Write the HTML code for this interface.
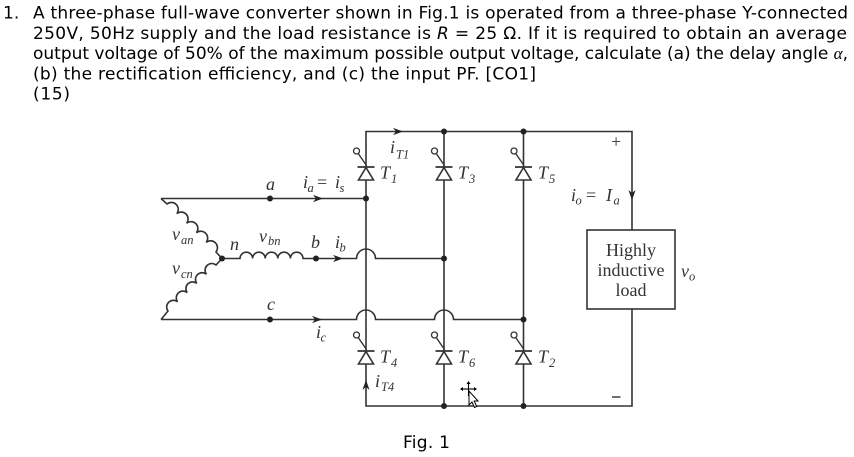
<!DOCTYPE html>
<html>
<head>
<meta charset="utf-8">
<style>
  html,body{margin:0;padding:0;background:#fff;}
  svg{display:block;}
  .hd{font-family:"DejaVu Sans","Liberation Sans",sans-serif;font-size:17px;fill:#000;}
  .lb{font-family:"Liberation Serif",serif;font-style:italic;font-size:18px;fill:#333;}
  .sb{font-family:"Liberation Serif",serif;font-style:italic;font-size:12.5px;fill:#333;}
  .rm{font-family:"Liberation Serif",serif;font-size:18px;fill:#333;}
  .w{fill:none;stroke:#333;stroke-width:1.6;}
</style>
</head>
<body>
<svg width="854" height="457" viewBox="0 0 854 457" xmlns="http://www.w3.org/2000/svg">
  <rect x="0" y="0" width="854" height="457" fill="#fff"/>

  <!-- Header text -->
  <text class="hd" x="3" y="18.5">1.</text>
  <text class="hd" x="33" y="18.5" textLength="815" lengthAdjust="spacing">A three-phase full-wave converter shown in Fig.1 is operated from a three-phase Y-connected</text>
  <text class="hd" x="33" y="38.8" textLength="814" lengthAdjust="spacing">250V, 50Hz supply and the load resistance is <tspan font-style="italic">R</tspan> = 25 Ω. If it is required to obtain an average</text>
  <text class="hd" x="33" y="59.1" textLength="815" lengthAdjust="spacing">output voltage of 50% of the maximum possible output voltage, calculate (a) the delay angle <tspan font-family="Liberation Serif, serif" font-style="italic">α</tspan>,</text>
  <text class="hd" x="33" y="79.4" textLength="503" lengthAdjust="spacing">(b) the rectification efficiency, and (c) the input PF. [CO1]</text>
  <text class="hd" x="33" y="99.7" textLength="37" lengthAdjust="spacing">(15)</text>

  <!-- Wires -->
  <!-- column 1 -->
  <path class="w" d="M366,167 V131.5 H632 V230"/>
  <rect class="w" x="587" y="230" width="88" height="79"/>
  <path class="w" d="M632,309 V406 H366 V364"/>
  <path class="w" d="M366,180 V351"/>
  <!-- column 3 -->
  <path class="w" d="M444,131.5 V167 M444,180 V351 M444,364 V406"/>
  <!-- column 5 -->
  <path class="w" d="M523.5,131.5 V167 M523.5,180 V351 M523.5,364 V406"/>

  <!-- a wire and coil -->
  <path class="w" d="M161,198.5 H366"/>
  <path class="w" d="M161,198.5 L167,204
    A6.9,6.9 0 0 1 176.8,213.6
    A6.9,6.9 0 0 1 186.6,223.2
    A6.9,6.9 0 0 1 196.4,232.8
    A6.9,6.9 0 0 1 206.2,242.4
    A6.9,6.9 0 0 1 216,252 L222,258.5"/>
  <!-- b wire and coil -->
  <path class="w" d="M222,258.5 H240
    A6.3,6.3 0 0 1 252.6,258.5
    A6.3,6.3 0 0 1 265.2,258.5
    A6.3,6.3 0 0 1 277.8,258.5
    A6.3,6.3 0 0 1 290.4,258.5
    A6.3,6.3 0 0 1 303,258.5
    H356.5 A9.5,9.5 0 0 1 375.5,258.5 H444"/>
  <!-- c coil -->
  <path class="w" d="M222,258.5 L216,265
    A6.7,6.7 0 0 0 206.4,274.2
    A6.7,6.7 0 0 0 196.8,283.4
    A6.7,6.7 0 0 0 187.2,292.6
    A6.7,6.7 0 0 0 177.6,301.8
    A6.7,6.7 0 0 0 168,311 L161,319.5"/>
  <!-- c wire -->
  <path class="w" d="M161,319.5 H356.5 A9.5,9.5 0 0 1 375.5,319.5 H434.5 A9.5,9.5 0 0 1 453.5,319.5 H523.5"/>

  <!-- Dots -->
  <g fill="#222">
    <circle cx="366" cy="198.5" r="3"/>
    <circle cx="270" cy="198.5" r="3"/>
    <circle cx="222" cy="258.5" r="3"/>
    <circle cx="316" cy="258.5" r="3"/>
    <circle cx="444" cy="258.5" r="3"/>
    <circle cx="270" cy="319.5" r="3"/>
    <circle cx="523.5" cy="319.5" r="3"/>
    <circle cx="444" cy="131.5" r="3"/>
    <circle cx="523.5" cy="131.5" r="3"/>
    <circle cx="444" cy="406" r="3"/>
    <circle cx="523.5" cy="406" r="3"/>
  </g>

  <!-- Thyristors -->
  <defs>
    <g id="thy">
      <line x1="-8.5" y1="0" x2="8.5" y2="0" stroke="#333" stroke-width="1.8"/>
      <polygon points="0,0.5 -7.5,13 7.5,13" fill="#fff" stroke="#333" stroke-width="1.6" stroke-linejoin="miter"/>
      <line x1="-7.8" y1="-13.5" x2="0.5" y2="-1.5" stroke="#333" stroke-width="1.4"/>
      <circle cx="-9.5" cy="-16" r="3" fill="#fff" stroke="#333" stroke-width="1.3"/>
    </g>
    <path id="arr" d="M0,0 L-10,-3.6 L-7,0 L-10,3.6 Z" fill="#222"/>
  </defs>
  <use href="#thy" x="366" y="167"/>
  <use href="#thy" x="444" y="167"/>
  <use href="#thy" x="523.5" y="167"/>
  <use href="#thy" x="366" y="351"/>
  <use href="#thy" x="444" y="351"/>
  <use href="#thy" x="523.5" y="351"/>

  <!-- Arrowheads -->
  <use href="#arr" transform="translate(323,198.5)"/>
  <use href="#arr" transform="translate(343,258.5)"/>
  <use href="#arr" transform="translate(322,319.5)"/>
  <use href="#arr" transform="translate(403,131.5)"/>
  <use href="#arr" transform="translate(632,200) rotate(90)"/>
  <use href="#arr" transform="translate(366,380) rotate(-90)"/>

  <!-- Labels -->
  <text class="lb" x="390" y="153">i</text><text class="sb" x="396" y="158.5">T1</text>
  <text class="lb" x="380" y="178.5">T</text><text class="sb" x="391" y="183">1</text>
  <text class="lb" x="458" y="178.5">T</text><text class="sb" x="469" y="183">3</text>
  <text class="lb" x="538" y="178.5">T</text><text class="sb" x="549" y="183">5</text>
  <text class="lb" x="380" y="362.5">T</text><text class="sb" x="391" y="367">4</text>
  <text class="lb" x="458" y="362.5">T</text><text class="sb" x="469" y="367">6</text>
  <text class="lb" x="538" y="362.5">T</text><text class="sb" x="549" y="367">2</text>
  <text class="lb" x="375" y="387">i</text><text class="sb" x="381" y="391">T4</text>

  <text class="lb" x="266" y="190">a</text>
  <text class="lb" x="303" y="188">i</text><text class="sb" x="307.5" y="192">a</text>
  <text class="rm" x="317" y="188">=</text>
  <text class="lb" x="335" y="188">i</text><text class="sb" x="339.5" y="192">s</text>

  <text class="lb" x="172" y="240">v</text><text class="sb" x="181" y="244">an</text>
  <text class="lb" x="172" y="274">v</text><text class="sb" x="181" y="278">cn</text>
  <text class="lb" x="230" y="250">n</text>
  <text class="lb" x="259" y="242">v</text><text class="sb" x="268" y="245">bn</text>
  <text class="lb" x="311" y="248">b</text>
  <text class="lb" x="335" y="248">i</text><text class="sb" x="339.5" y="251.5">b</text>
  <text class="lb" x="267" y="310">c</text>
  <text class="lb" x="316" y="338">i</text><text class="sb" x="320.5" y="341.5">c</text>

  <text class="lb" x="571" y="201">i</text><text class="sb" x="575.5" y="204.5">o</text>
  <text class="rm" x="586" y="201">=</text>
  <text class="lb" x="606" y="201">I</text><text class="sb" x="613.5" y="204.5">a</text>

  <text class="rm" x="611" y="147.5" font-size="16">+</text>
  <line x1="612" y1="397" x2="620.5" y2="397" stroke="#333" stroke-width="1.4"/>

  <text class="lb" x="681" y="277">v</text><text class="sb" x="689" y="280.5">o</text>

  <text class="rm" x="631" y="256" text-anchor="middle">Highly</text>
  <text class="rm" x="631" y="276" text-anchor="middle">inductive</text>
  <text class="rm" x="631" y="296" text-anchor="middle">load</text>

  <text class="hd" x="403" y="448" font-size="16.5" textLength="47" lengthAdjust="spacing">Fig. 1</text>

  <!-- Cursor -->
  <g stroke="#000" stroke-width="1.1" fill="none">
    <line x1="461" y1="389" x2="476" y2="389"/>
    <line x1="468.5" y1="382" x2="468.5" y2="396"/>
  </g>
  <g fill="#000">
    <polygon points="460,389 463,387 463,391"/>
    <polygon points="477,389 474,387 474,391"/>
    <polygon points="468.5,381 466.5,384 470.5,384"/>
  </g>
  <polygon points="469,391 469,405 472,402 474.5,407.5 476.7,406.5 474.2,401 478,401" fill="#fff" stroke="#000" stroke-width="1"/>
</svg>
</body>
</html>
